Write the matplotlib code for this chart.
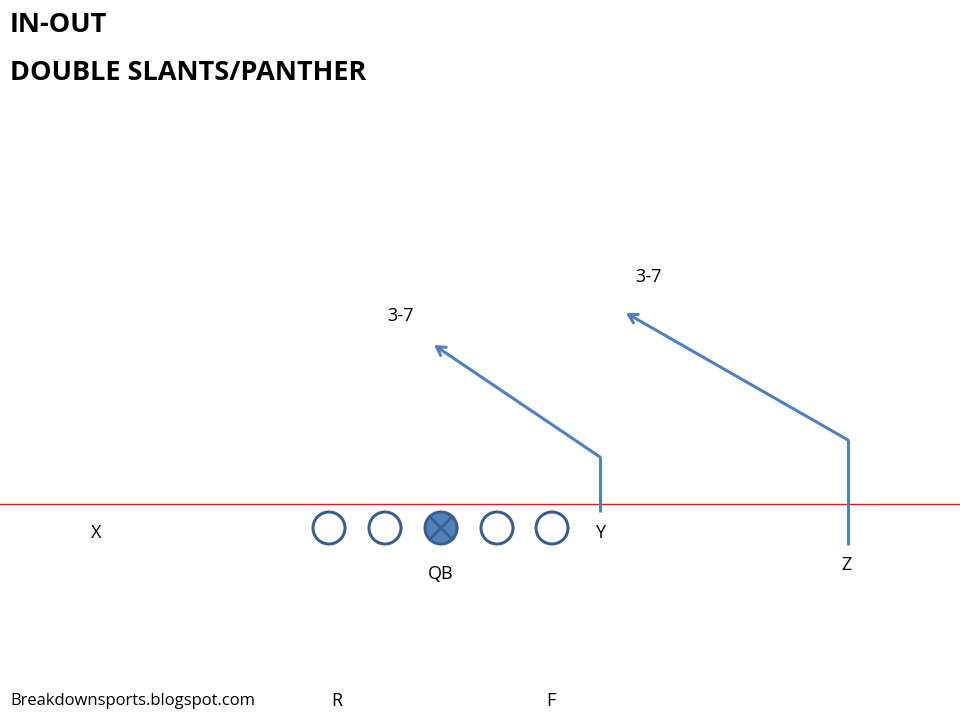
import matplotlib.pyplot as plt
from matplotlib.patches import Circle

titles = ["IN-OUT", "DOUBLE SLANTS/PANTHER"]
title_y = [25, 73]
linemen_x = [329, 385, 441, 497, 552]
linemen_y = 528
qb_index = 2
labels = ["X", "Y", "Z", "QB", "R", "F", "3-7", "3-7"]
label_x = [96, 600, 847, 441, 337, 551, 401, 649]
label_y = [533, 533, 565, 574, 701, 701, 316, 277]
route_y_x = [600, 600, 434]
route_y_y = [512, 457, 345]
route_z_x = [848, 848, 626]
route_z_y = [545, 440, 313]
los_y = 504

fig = plt.figure(figsize=(9.6, 7.2), dpi=100)
ax = fig.add_axes([0, 0, 1, 1])
ax.set_xlim(0, 960); ax.set_ylim(720, 0); ax.axis('off')
fig.patch.set_facecolor('white')
fs = 'Open Sans'
for t, y in zip(titles, title_y):
    ax.text(10, y, t, fontsize=19.5, fontweight='bold', family=fs, va='center', ha='left')
ax.plot([0, 960], [los_y, los_y], color='#d62020', lw=1)
edge = '#3a5f8f'
for i, x in enumerate(linemen_x):
    fc = '#4f81bd' if i == qb_index else 'white'
    ax.add_patch(Circle((x, linemen_y), 16, fc=fc, ec=edge, lw=2.2))
    if i == qb_index:
        d = 16 * 0.707
        ax.plot([x - d, x + d], [linemen_y - d, linemen_y + d], color=edge, lw=2)
        ax.plot([x - d, x + d], [linemen_y + d, linemen_y - d], color=edge, lw=2)
for t, x, y in zip(labels, label_x, label_y):
    ax.text(x, y, t, fontsize=13, family=fs, ha='center', va='center')
for rx, ry in [(route_y_x, route_y_y), (route_z_x, route_z_y)]:
    ax.plot(rx[:-1], ry[:-1], color='#4f81bd', lw=2.2, solid_capstyle='butt')
    ax.annotate('', xy=(rx[-1], ry[-1]), xytext=(rx[-2], ry[-2]),
                arrowprops=dict(arrowstyle='->,head_length=0.6,head_width=0.35', color='#4f81bd', lw=2.2, shrinkA=0, shrinkB=0))
ax.text(10, 701, "Breakdownsports.blogspot.com", fontsize=12, family=fs, va='center', ha='left')
fig.savefig('out.png', dpi=100)
